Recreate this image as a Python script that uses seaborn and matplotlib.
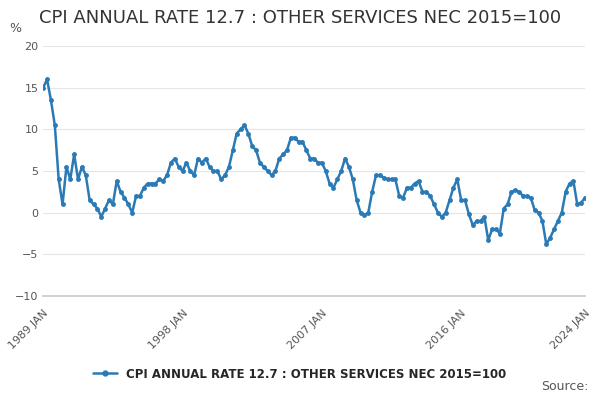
import matplotlib
matplotlib.use("Agg")
import matplotlib.pyplot as plt
import seaborn as sns
import pandas as pd

years = list(range(1989, 2024))
quarterly_values = [
    15, 16, 13.5, 10.5,
    4, 1, 5.5, 4,
    7, 4, 5.5, 4.5,
    1.5, 1, 0.5, -0.5,
    0.5, 1.5, 1, 3.8,
    2.5, 1.8, 1, 0,
    2, 2, 3, 3.5,
    3.5, 3.5, 4, 3.8,
    4.5, 6, 6.5, 5.5,
    5, 6, 5, 4.5,
    6.5, 6, 6.5, 5.5,
    5, 5, 4, 4.5,
    5.5, 7.5, 9.5, 10,
    10.5, 9.5, 8, 7.5,
    6, 5.5, 5, 4.5,
    5, 6.5, 7, 7.5,
    9, 9, 8.5, 8.5,
    7.5, 6.5, 6.5, 6,
    6, 5, 3.5, 3,
    4, 5, 6.5, 5.5,
    4, 1.5, 0, -0.3,
    0, 2.5, 4.5, 4.5,
    4.2, 4, 4, 4,
    2, 1.8, 3, 3,
    3.5, 3.8, 2.5, 2.5,
    2, 1, 0, -0.5,
    0, 1.5, 3, 4,
    1.5, 1.5, -0.2, -1.5,
    -1, -1, -0.5, -3.3,
    -2, -2, -2.5, 0.5,
    1, 2.5, 2.7, 2.5,
    2, 2, 1.8, 0.3,
    0, -1, -3.8, -3,
    -2, -1, 0, 2.5,
    3.5, 3.8, 1, 1.2,
    1.8,
]
tick_years = [1989, 1998, 2007, 2016, 2024]
tick_labels = [f"{y} JAN" for y in tick_years]
series_name = "CPI ANNUAL RATE 12.7 : OTHER SERVICES NEC 2015=100"

t = [1989 + i * 0.25 for i in range(len(quarterly_values))]
df = pd.DataFrame({"t": t, "v": quarterly_values})

sns.set_theme(style="white")
plt.rcParams['font.family'] = ['DejaVu Sans']
fig, ax = plt.subplots(figsize=(6, 4), dpi=100)
fig.subplots_adjust(left=0.072, right=0.975, top=0.885, bottom=0.26)
color = "#2a7ab5"
sns.lineplot(data=df, x="t", y="v", ax=ax, color=color, lw=1.8, marker="o",
             markersize=3.5, markeredgewidth=0, legend=False)
ax.set_xlim(1989, 2024)
ax.set_ylim(-10, 20)
ax.set_yticks(range(-10, 21, 5))
ax.set_xticks(tick_years)
ax.set_xticklabels(tick_labels, rotation=45, ha="right", rotation_mode="anchor", fontsize=8, color="#555555")
ax.tick_params(axis="y", labelsize=8, colors="#555555", length=0)
ax.tick_params(axis="x", length=5, color="#bbbbbb")
ax.yaxis.grid(True, color="#e5e5e5", lw=0.8)
for s in ["left", "right", "top"]:
    ax.spines[s].set_visible(False)
ax.spines["bottom"].set_color("#cccccc")
ax.set_xlabel("")
ax.set_ylabel("")
fig.text(0.5, 0.955, series_name, ha="center", va="center", fontsize=13, color="#333333")
fig.text(0.015, 0.92, "%", fontsize=9, color="#555555")
h = plt.Line2D([], [], color=color, lw=1.8, marker="o", markersize=3.5)
fig.legend([h], [series_name], loc="center", bbox_to_anchor=(0.5, 0.065), frameon=False,
           prop={"weight": "bold", "size": 8.5}, handlelength=2)
fig.text(0.98, 0.025, "Source:", ha="right", fontsize=9, color="#555555")
fig.savefig("out.png")
